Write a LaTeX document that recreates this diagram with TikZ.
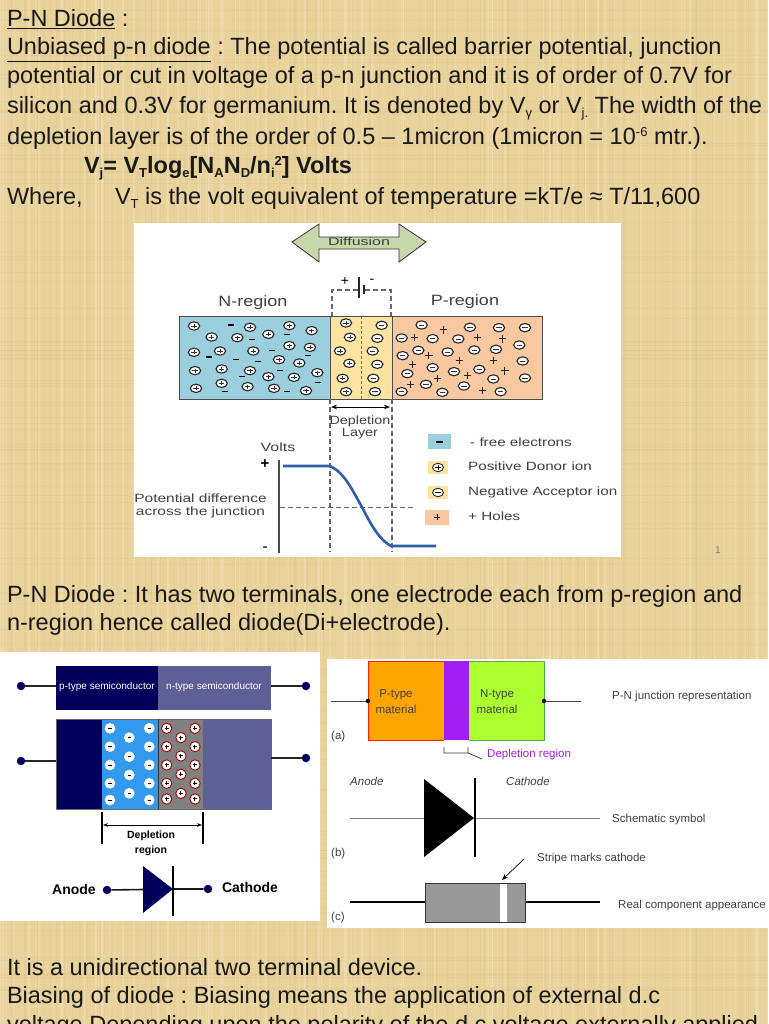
\documentclass[tikz,border=0pt]{standalone}
\usepackage{graphicx}
\usepackage{fontspec}
\setmainfont{Liberation Sans}
\frenchspacing
\usetikzlibrary{arrows.meta}
\definecolor{bgtan}{HTML}{E9D39D}
\definecolor{bgdark}{HTML}{DBBF80}
\definecolor{bglite}{HTML}{F3E3B6}
\definecolor{ntint}{HTML}{9CCFDE}
\definecolor{dtint}{HTML}{FCE39F}
\definecolor{ptint}{HTML}{F8C8A0}
\definecolor{navyp}{HTML}{00005C}
\definecolor{slaten}{HTML}{5F5F98}
\definecolor{bluedep}{HTML}{3399EE}
\definecolor{curveb}{HTML}{2F5FA8}
\definecolor{diffg}{HTML}{C6D7AC}
\definecolor{purp}{HTML}{A020F0}
\definecolor{limeg}{HTML}{ADFF2F}
\definecolor{orng}{HTML}{FFA500}
\newcommand{\bodyfont}{\fontsize{23.5}{27}\selectfont}
\newcommand{\smf}{\fontsize{12}{14}\selectfont}
\newcommand{\tnf}{\fontsize{11.5}{13}\selectfont}
\newcommand{\xstr}[2]{\scalebox{#1}[1]{#2}}
\newcommand{\lowr}[1]{\raisebox{-4pt}{\fontsize{13}{13}\selectfont #1}}
\newcommand{\highr}[1]{\raisebox{8pt}{\fontsize{13}{13}\selectfont #1}}
\tikzset{
  x=1pt,y=-1pt,
  line/.style={anchor=base west,inner sep=0pt,outer sep=0pt,font=\bodyfont,text=black!90},
  sublab/.style={inner sep=0pt,font=\smf,text=black!75},
  panellab/.style={inner sep=0pt,font=\tnf,text=black!75},
  wdot/.style={circle,fill=navyp,inner sep=0pt,minimum size=8.5pt},
  vdash/.style={dash pattern=on 5pt off 3pt,draw=black!60,line width=1.2pt},
}
\begin{document}
\begin{tikzpicture}
\useasboundingbox (0,0) rectangle (768,1024);
\fill[bgtan] (0,0) rectangle (768,1024);
\pgfmathsetseed{7}
\foreach \i in {1,...,130}{
  \pgfmathsetmacro{\px}{rnd*768}
  \draw[bglite,opacity=.4,line width=1.3pt] (\px,0) -- (\px,1024);
  \pgfmathsetmacro{\qx}{rnd*768}
  \draw[bgdark,opacity=.25,line width=1pt] (\qx,0) -- (\qx,1024);
  \pgfmathsetmacro{\py}{rnd*1024}
  \draw[bgdark,opacity=.25,line width=1pt] (0,\py) -- (768,\py);
}
% Top text
\node[line] (t1) at (7,27) {\underline{P-N Diode} :};
\node[line] (t2) at (7,55) {\underline{Unbiased p-n diode} : The potential is called barrier potential, junction};
\node[line] (t3) at (7,84) {potential or cut in voltage of a p-n junction and it is of order of 0.7V for};
\node[line] (t4) at (7,114) {silicon and 0.3V for germanium. It is denoted by V\lowr{γ} or V\lowr{j.} The width of the};
\node[line] (t5) at (7,145) {depletion layer is of the order of 0.5 – 1micron (1micron = 10\highr{-6} mtr.).};
\node[line,font=\bodyfont\bfseries] (t6) at (84,174) {V\lowr{j}= V\lowr{T}log\lowr{e}[N\lowr{A}N\lowr{D}/n\lowr{i}\highr{2}] Volts};
\node[line] (t7a) at (7,205) {Where,};
\node[line] (t7b) at (115,205) {V\lowr{T} is the volt equivalent of temperature =kT/e ≈ T/11,600};
% Upper panel
\fill[white] (134,223) rectangle (621,557);
\node[sublab,font=\fontsize{10}{11}\selectfont,text=black!50] (pgnum) at (718,550) {1};
\draw[black!80,fill=diffg,line width=0.8pt] (292,242) -- (319,224) -- (319,237) -- (399,237) -- (399,224) -- (426,242) -- (399,262) -- (399,249) -- (319,249) -- (319,262) -- cycle;
\node[sublab,font=\fontsize{11}{12}\selectfont] (diff) at (359,242) {\xstr{1.45}{Diffusion}};
% battery
\coordinate (bl) at (332,317); \coordinate (br) at (391,317);
\draw[vdash] (bl) |- (359,290);
\draw[vdash] (br) |- (364,290);
\draw[black!85,line width=1.2pt] (359,277) -- (359,298);
\draw[black!85,line width=2.2pt] (364,285) -- (364,294);
\node[sublab,font=\fontsize{14}{16}\selectfont,text=black] (bp) at (345,281) {+};
\node[sublab,font=\fontsize{14}{16}\selectfont,text=black] (bm) at (372,281) {-};
\node[sublab,font=\fontsize{15}{16}\selectfont] (nr) at (253,303) {\xstr{1.2}{N-region}};
\node[sublab,font=\fontsize{15}{16}\selectfont] (pr) at (465,302) {\xstr{1.2}{P-region}};
% bar
\fill[ntint] (179,316) rectangle (330,399);
\fill[dtint] (330,316) rectangle (392,399);
\fill[ptint] (392,316) rectangle (542,399);
\draw[black!70,line width=1pt] (179,316) rectangle (542,399);
\draw[black!70,line width=.7pt] (330,316) -- (330,399) (392,316) -- (392,399);
\draw[black!55,densely dashed,line width=.7pt] (361,316) -- (361,399);
\begin{scope}[shift={(130,220)},x=0.3333pt,y=-0.3333pt]
\foreach \a/\b in {192/318,360/322,478/317,545/332,245/351,322/353,415/343,192/397,270/393,370/393,478/377,540/382,447/419,508/429,195/452,275/447,360/452,415/470,492/472,562/458,198/505,275/490,353/500,432/505,528/512,648/309,660/352,630/393,658/430,638/475,648/515}{
  \draw[fill=white,draw=black!85,line width=1.1pt] (\a,\b) ellipse (17 and 12.5);
  \draw[black!80,line width=.7pt] (\a-8,\b) -- (\a+8,\b) (\a,\b-6) -- (\a,\b+6);
}
\foreach \a/\b in {755/316,742/355,728/393,742/433,730/475,735/515,875/315,1020/322,1107/323,1185/323,815/354,908/356,985/357,1168/375,1033/390,1098/388,865/391,953/396,818/407,1178/423,908/443,832/461,972/455,1048/448,1090/477,1185/474,888/493,1002/498,815/515,937/517,1112/515}{
  \draw[fill=white,draw=black!85,line width=1.1pt] (\a,\b) ellipse (17 and 12.5);
  \draw[black!80,line width=.9pt] (\a-8,\b) -- (\a+8,\b);
}
\foreach \a/\b in {302/315,365/358,472/343,236/411,318/418,385/425,427/392,533/407,335/470,450/452,565/488,285/515,472/515}{
  \draw[black,line width=1.4pt] (\a-9,\b) -- (\a+9,\b);
}
\foreach \a/\b in {940/330,853/352,1043/352,1118/357,897/406,988/421,1090/421,848/433,1012/467,1125/453,922/475,842/493,1057/512}{
  \draw[black!85,line width=1pt] (\a-11,\b) -- (\a+11,\b) (\a,\b-11) -- (\a,\b+11);
}
\end{scope}
% below bar
\draw[vdash] (330,399) -- (330,552);
\draw[vdash] (392,399) -- (392,552);
\draw[{Stealth[length=6pt]}-{Stealth[length=6pt]},black,line width=.7pt] (331,407) -- (390,407);
\node[sublab,align=center,font=\fontsize{12}{11.5}\selectfont] (dl) at (360,427.5) {\xstr{1.2}{Depletion}\\\xstr{1.2}{Layer}};
\node[sublab,font=\fontsize{12}{12}\selectfont] (volts) at (278,447) {\xstr{1.33}{Volts}};
\node[sublab,font=\fontsize{15}{16}\bfseries\selectfont,text=black] (vp) at (265,464) {+};
\node[sublab,font=\fontsize{15}{16}\bfseries\selectfont] (vm) at (265,549) {-};
\draw[black!70,line width=1.5pt] (279,460) -- (279,553);
\draw[vdash,line width=.9pt] (280,507) -- (413,507);
\draw[curveb,line width=2.6pt] (283,466) -- (330,466) .. controls (345,473) and (352,490) .. (362,507) .. controls (372,527) and (380,540) .. (391,546) -- (436,546);
\node[sublab,align=center,font=\fontsize{12}{13}\selectfont] (pot) at (200.5,505.5) {\xstr{1.29}{Potential difference}\\\xstr{1.29}{across the junction}};
% legend
\fill[ntint] (428,434) rectangle (451,449);
\draw[black,line width=1.4pt] (436,442) -- (443,442);
\fill[dtint] (428,461) rectangle (448,474);
\draw[fill=white,draw=black!85,line width=.9pt] (438,467.5) ellipse (5.5 and 4.2);
\draw[black,line width=.6pt] (435,467.5) -- (441,467.5) (438,465) -- (438,470);
\fill[dtint] (428,486) rectangle (448,499);
\draw[fill=white,draw=black!85,line width=.9pt] (438,492.5) ellipse (5.5 and 4.2);
\draw[black,line width=.7pt] (435,492.5) -- (441,492.5);
\fill[ptint] (425,510) rectangle (449,525);
\draw[black,line width=.7pt] (434,517) -- (440,517) (437,514) -- (437,520);
\node[sublab,anchor=west,font=\fontsize{12}{12}\selectfont] (l1) at (470,442) {\xstr{1.27}{- free electrons}};
\node[sublab,anchor=west,font=\fontsize{12}{12}\selectfont] (l2) at (468,466) {\xstr{1.27}{Positive Donor ion}};
\node[sublab,anchor=west,font=\fontsize{12}{12}\selectfont] (l3) at (468,492) {\xstr{1.27}{Negative Acceptor ion}};
\node[sublab,anchor=west,font=\fontsize{12}{12}\selectfont] (l4) at (468,516) {\xstr{1.27}{+ Holes}};
% mid text
\node[line] (m1) at (7,602) {P-N Diode : It has two terminals, one electrode each from p-region and};
\node[line] (m2) at (7,630) {n-region hence called diode(Di+electrode).};
% left panel
\fill[white] (0,652) rectangle (320,921);
\fill[navyp] (56,666) rectangle (158,710);
\fill[slaten] (158,666) rectangle (271,710);
\node[inner sep=0pt,text=white,font=\fontsize{10}{11}\selectfont] (pts) at (107,687) {p-type semiconductor};
\node[inner sep=0pt,text=white,font=\fontsize{10}{11}\selectfont] (nts) at (214,687) {n-type semiconductor};
\node[wdot] (a1) at (21,686) {}; \node[wdot] (a2) at (306,686) {};
\coordinate (a1e) at (56,686); \coordinate (a2e) at (271,686);
\draw[black!85,line width=1.6pt] (a1) -- (a1e) (a2) -- (a2e);
\fill[navyp] (56,719) rectangle (102,809);
\fill[bluedep] (102,719) rectangle (158,809);
\fill[black!50] (158,719) rectangle (203,809);
\fill[slaten] (203,719) rectangle (271,809);
\draw[black!60,line width=.6pt] (56,719) rectangle (271,809);
\draw[black!80,line width=.6pt] (158,719) -- (158,809);
\node[wdot] (b1) at (21,761) {}; \node[wdot] (b2) at (306,758) {};
\coordinate (b1e) at (56,761); \coordinate (b2e) at (271,758);
\draw[black!85,line width=1.6pt] (b1) -- (b1e) (b2) -- (b2e);
\begin{scope}[shift={(0,650)},x=0.3333pt,y=-0.3333pt]
\foreach \a/\b in {330/235,388/263,448/235,330/290,388/320,448/290,330/345,388/375,448/345,330/400,388/430,448/400,330/450,448/450}{
  \fill[white] (\a,\b) circle (16);
  \draw[black,line width=.8pt] (\a-5,\b) -- (\a+5,\b);
}
\foreach \a/\b in {500/235,543/263,585/235,500/290,543/318,585/290,500/345,543/373,585/345,500/400,543/430,585/400,500/447,585/447}{
  \draw[fill=white,draw=red!65!black,line width=.9pt] (\a,\b) circle (15.5);
  \draw[black,line width=1pt] (\a-6,\b) -- (\a+6,\b) (\a,\b-6) -- (\a,\b+6);
}
\end{scope}
\draw[black,line width=1.2pt] (102,812) -- (102,844) (203,812) -- (203,844);
\draw[{Stealth[length=5pt]}-{Stealth[length=5pt]},black,line width=1pt] (103,825) -- (202,825);
\node[inner sep=0pt,align=center,font=\fontsize{10.5}{15}\bfseries\selectfont] (dr) at (151,843.5) {Depletion\\region};
\node[inner sep=0pt,font=\fontsize{14}{16}\bfseries\selectfont] (an) at (74,889) {Anode};
\node[inner sep=0pt,font=\fontsize{14}{16}\bfseries\selectfont] (ca) at (250,887) {Cathode};
\node[wdot] (d1) at (107,890) {}; \node[wdot] (d2) at (208,889) {};
\coordinate (tri) at (143,889.5); \coordinate (tre) at (173,889);
\draw[black!90,line width=1.6pt] (d1) -- (tri) (tre) -- (d2);
\fill[navyp] (143,866) -- (173,889) -- (143,913) -- cycle;
\draw[black,line width=1.6pt] (173,866) -- (173,916);
% right panel
\fill[white] (327,659) rectangle (768,928);
\coordinate (la) at (331,701); \coordinate (ra) at (581,701);
\fill[orng] (368,661) rectangle (444,740);
\fill[purp] (444,661) rectangle (469,740);
\fill[limeg] (469,661) rectangle (544,740);
\draw[red!75!orange,line width=.9pt] (444,661) -- (368,661) -- (368,740) -- (444,740);
\draw[green!55!black!70,line width=.9pt] (469,661) -- (544,661) -- (544,740) -- (469,740);
\node[circle,fill=black,inner sep=0pt,minimum size=4.5pt] (ld) at (368,701) {};
\node[circle,fill=black,inner sep=0pt,minimum size=4.5pt] (rd) at (544,701) {};
\draw[black!75,line width=.9pt] (la) -- (ld) (rd) -- (ra);
\node[panellab,align=center,font=\fontsize{11.5}{16}\selectfont] (pm) at (396,702) {P-type\\material};
\node[panellab,align=center,font=\fontsize{11.5}{16}\selectfont] (nm) at (497,702) {N-type\\material};
\node[panellab,anchor=west] (pnj) at (612,697) {P-N junction representation};
\node[panellab,anchor=west] (sa) at (331,737) {(a)};
\draw[black!75,line width=.8pt] (444,747) -- (444,753) -- (468,753) -- (468,747) (468,753) -- (482,759);
\node[panellab,anchor=west,text=purp] (dre) at (487,755) {Depletion region};
\node[panellab,anchor=west,font=\tnf\itshape] (an2) at (350,781) {Anode};
\node[panellab,anchor=west,font=\tnf\itshape] (ca2) at (506,781) {Cathode};
\coordinate (sl) at (350,818); \coordinate (sr) at (600,818);
\draw[black!50,line width=1pt] (sl) -- (sr);
\fill[black] (424,779) -- (474,818) -- (424,857) -- cycle;
\draw[black,line width=2.2pt] (475,778) -- (475,857);
\node[panellab,anchor=west] (ss) at (612,820) {Schematic symbol};
\node[panellab,anchor=west] (sb) at (331,854) {(b)};
\node[panellab,anchor=west] (smc) at (537,859) {Stripe marks cathode};
\coordinate (cl) at (350,902); \coordinate (cr) at (600,902);
\draw[black,line width=1.6pt] (cl) -- (cr);
\draw[fill=black!40,draw=black!80,line width=1pt] (425,883) rectangle (525,922);
\fill[white] (500,884) rectangle (507,921.5);
\coordinate (ar1) at (524,859); \coordinate (ar2) at (502,880);
\draw[-{Stealth[length=6pt]},black,line width=.7pt] (ar1) -- (ar2);
\node[panellab,anchor=west] (rca) at (618,906) {Real component appearance};
\node[panellab,anchor=west] (sc) at (331,918) {(c)};
% bottom text
\node[line] (b1t) at (7,975) {It is a unidirectional two terminal device.};
\node[line] (b2t) at (7,1003) {Biasing of diode : Biasing means the application of external d.c};
\node[line] (b3t) at (7,1032) {voltage.Depending upon the polarity of the d.c voltage externally applied};
\end{tikzpicture}
\end{document}
